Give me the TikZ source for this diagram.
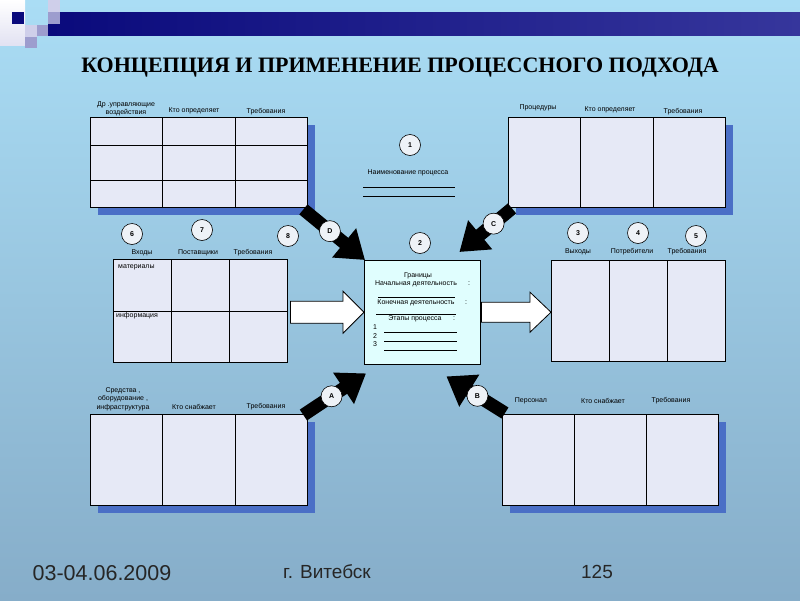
\documentclass[tikz,border=0pt]{standalone}
\usepackage{fontspec}
\setmainfont{Liberation Sans}
\newfontfamily\titlefont{Liberation Serif}
\usetikzlibrary{arrows.meta, positioning, calc, shadows, backgrounds}
\definecolor{bgtop}{HTML}{AADDF5}
\definecolor{bgbottom}{HTML}{86ADC9}
\definecolor{barnavy}{HTML}{0A0A7C}
\definecolor{barend}{HTML}{36369C}
\definecolor{cellfill}{HTML}{E6E9F6}
\definecolor{shadowblue}{HTML}{4A6FC6}
\definecolor{boxfill}{HTML}{E0FEFE}
\definecolor{numfill}{HTML}{EEF2F7}
\definecolor{lavlight}{HTML}{CFCFEA}
\definecolor{lavdark}{HTML}{9D9DCE}

\begin{document}
\begin{tikzpicture}[x=1pt, y=-1pt,
  cell/.style={draw=black, fill=cellfill, inner sep=0pt, anchor=north west},
  shadowed/.style={drop shadow={shadow xshift=8pt, shadow yshift=-8pt,
                   fill=shadowblue, opacity=1}},
  head/.style={font=\fontsize{7}{8}\selectfont, align=center, inner sep=0pt},
  num/.style={circle, draw=black, fill=numfill, minimum size=21pt, inner sep=0pt,
              line width=0.6pt, font=\fontsize{7}{7}\selectfont\bfseries},
  flow/.style={line width=13pt, -{Triangle[width=36pt, length=27pt]}},
  block/.style={draw=black, fill=white, line width=0.8pt},
  rule/.style={draw=black, line width=0.6pt}
]
  % background and top bar
  \shade[top color=bgtop, bottom color=bgbottom] (0,0) rectangle (800,600);
  \shade[left color=barnavy, right color=barend] (48,12) rectangle (800,35);
  \shade[top color=white, bottom color=lavlight!60] (0,0) rectangle (25,45);
  \fill[barnavy] (12,12) rectangle (24,24);
  \fill[lavlight] (25,25) rectangle (37,37);
  \fill[lavdark] (37,25) rectangle (48,36);
  \fill[lavdark] (25,37) rectangle (37,48);
  \fill[lavlight] (48,0) rectangle (60,12);
  \fill[lavdark] (48,12) rectangle (60,24);

  \node[font=\titlefont\fontsize{22}{26}\selectfont\bfseries] (title) at (400,68)
    {КОНЦЕПЦИЯ И ПРИМЕНЕНИЕ ПРОЦЕССНОГО ПОДХОДА};

  % tables
  \node[cell, shadowed, minimum width=217pt, minimum height=90pt] (tl) at (90,117) {};
  \node[cell, shadowed, minimum width=217pt, minimum height=90pt] (tr) at (508,117) {};
  \node[cell, minimum width=174pt, minimum height=103pt] (ml) at (113,259) {};
  \node[cell, minimum width=174pt, minimum height=101pt] (mr) at (551,260) {};
  \node[cell, shadowed, minimum width=217pt, minimum height=91pt] (bl) at (90,414) {};
  \node[cell, shadowed, minimum width=216pt, minimum height=91pt] (br) at (502,414) {};

  \foreach \t in {tl,tr,ml,mr,bl,br}
    \foreach \f in {1/3,2/3}
      \draw ($(\t.north west)!\f!(\t.north east)$) -- ($(\t.south west)!\f!(\t.south east)$);
  \foreach \f in {0.31,0.7}
    \draw ($(tl.north west)!\f!(tl.south west)$) -- ($(tl.north east)!\f!(tl.south east)$);
  \draw ($(ml.north west)!0.5!(ml.south west)$) -- ($(ml.north east)!0.5!(ml.south east)$);

  % headers
  \node[head] (tlh1) at (126,109) {Др .управляющие\\воздействия};
  \node[head] (tlh2) at (194,111) {Кто определяет};
  \node[head] (tlh3) at (266,112) {Требования};
  \node[head] (trh1) at (538,108) {Процедуры};
  \node[head] (trh2) at (610,110) {Кто определяет};
  \node[head] (trh3) at (683,112) {Требования};
  \node[head] (mlh1) at (142,253) {Входы};
  \node[head] (mlh2) at (198,253) {Поставщики};
  \node[head] (mlh3) at (253,253) {Требования};
  \node[head] (mrh1) at (578,252) {Выходы};
  \node[head] (mrh2) at (632,252) {Потребители};
  \node[head] (mrh3) at (687,252) {Требования};
  \node[head, font=\fontsize{7}{8.5}\selectfont] (blh1) at (123,399)
    {Средства ,\\оборудование ,\\инфраструктура};
  \node[head] (blh2) at (194,407) {Кто снабжает};
  \node[head] (blh3) at (266,407) {Требования};
  \node[head] (brh1) at (531,401) {Персонал};
  \node[head] (brh2) at (603,401) {Кто снабжает};
  \node[head] (brh3) at (671,401) {Требования};
  \node[head, anchor=west] (mat) at (118,267) {материалы};
  \node[head, anchor=west] (inf) at (116,316) {информация};

  % numbered circles
  \node[num] (n1) at (410,145) {1};
  \node[num] (n2) at (420,243) {2};
  \node[num] (n3) at (578,233) {3};
  \node[num] (n4) at (638,233) {4};
  \node[num] (n5) at (696,236) {5};
  \node[num] (n6) at (132,234) {6};
  \node[num] (n7) at (202,230) {7};
  \node[num] (n8) at (288,236) {8};

  \node[head] (pname) at (408,173) {Наименование процесса};
  \draw[rule] (363,187) -- (455,187);
  \draw[rule] (363,196) -- (455,196);

  % process box
  \node[cell, fill=boxfill, minimum width=116pt, minimum height=104pt] (proc) at (364,260) {};
  \node[head] (bnd) at (418,276) {Границы};
  \node[head] (start) at (416,284) {Начальная деятельность};
  \node[head] (startc) at (469,284) {:};
  \draw[rule] (378,297) -- (455,297);
  \node[head] (stop) at (416,303) {Конечная деятельность};
  \node[head] (stopc) at (466,303) {:};
  \draw[rule] (376,314) -- (456,314);
  \node[head] (steps) at (415,319) {Этапы процесса};
  \node[head] (stepsc) at (454,319) {:};
  \foreach \i/\y in {1/327,2/336,3/344}
    \node[head] (s\i) at (375,\y) {\i};
  \foreach \y in {332,341,350}
    \draw[rule] (384,\y) -- (457,\y);

  % white block arrows
  \coordinate (inTail) at (ml.east |- proc.west);
  \coordinate (outHead) at (mr.west |- proc.east);
  \draw[block] ($(inTail)+(3,-11)$) -- ($(proc.west)+(-21,-11)$) -- ($(proc.west)+(-21,-21)$)
    -- (proc.west) -- ($(proc.west)+(-21,21)$) -- ($(proc.west)+(-21,11)$)
    -- ($(inTail)+(3,11)$) -- cycle;
  \draw[block] ($(proc.east)+(1,-10)$) -- ($(outHead)+(-21,-10)$) -- ($(outHead)+(-21,-20)$)
    -- (outHead) -- ($(outHead)+(-21,20)$) -- ($(outHead)+(-21,10)$)
    -- ($(proc.east)+(1,10)$) -- cycle;

  % black flow arrows
  \coordinate (tipD) at ($(proc.north west)+(1,0)$);
  \coordinate (tipC) at ($(proc.north east)+(-21,-8)$);
  \coordinate (tipA) at ($(proc.south west)+(2,9)$);
  \coordinate (tipB) at ($(proc.south east)+(-34,12)$);
  \draw[flow] ($(tl.south east)+(-4,2)$) -- (tipD) node[num, pos=0.43] (cD) {D};
  \draw[flow] ($(tr.south west)+(4,1)$) -- (tipC) node[num, pos=0.35] (cC) {C};
  \draw[flow] ($(bl.north east)+(-4,1)$) -- (tipA) node[num, pos=0.45] (cA) {A};
  \draw[flow] ($(br.north west)+(3,-1)$) -- (tipB) node[num, pos=0.47] (cB) {B};

  % footer
  \node[font=\fontsize{21.5}{24}\selectfont, text=black!85] (date) at (102,573) {03-04.06.2009};
  \node[font=\fontsize{19}{22}\selectfont, text=black!85] (city) at (327,572) {г. Витебск};
  \node[font=\fontsize{19}{22}\selectfont, text=black!85] (page) at (597,572) {125};
\end{tikzpicture}
\end{document}
